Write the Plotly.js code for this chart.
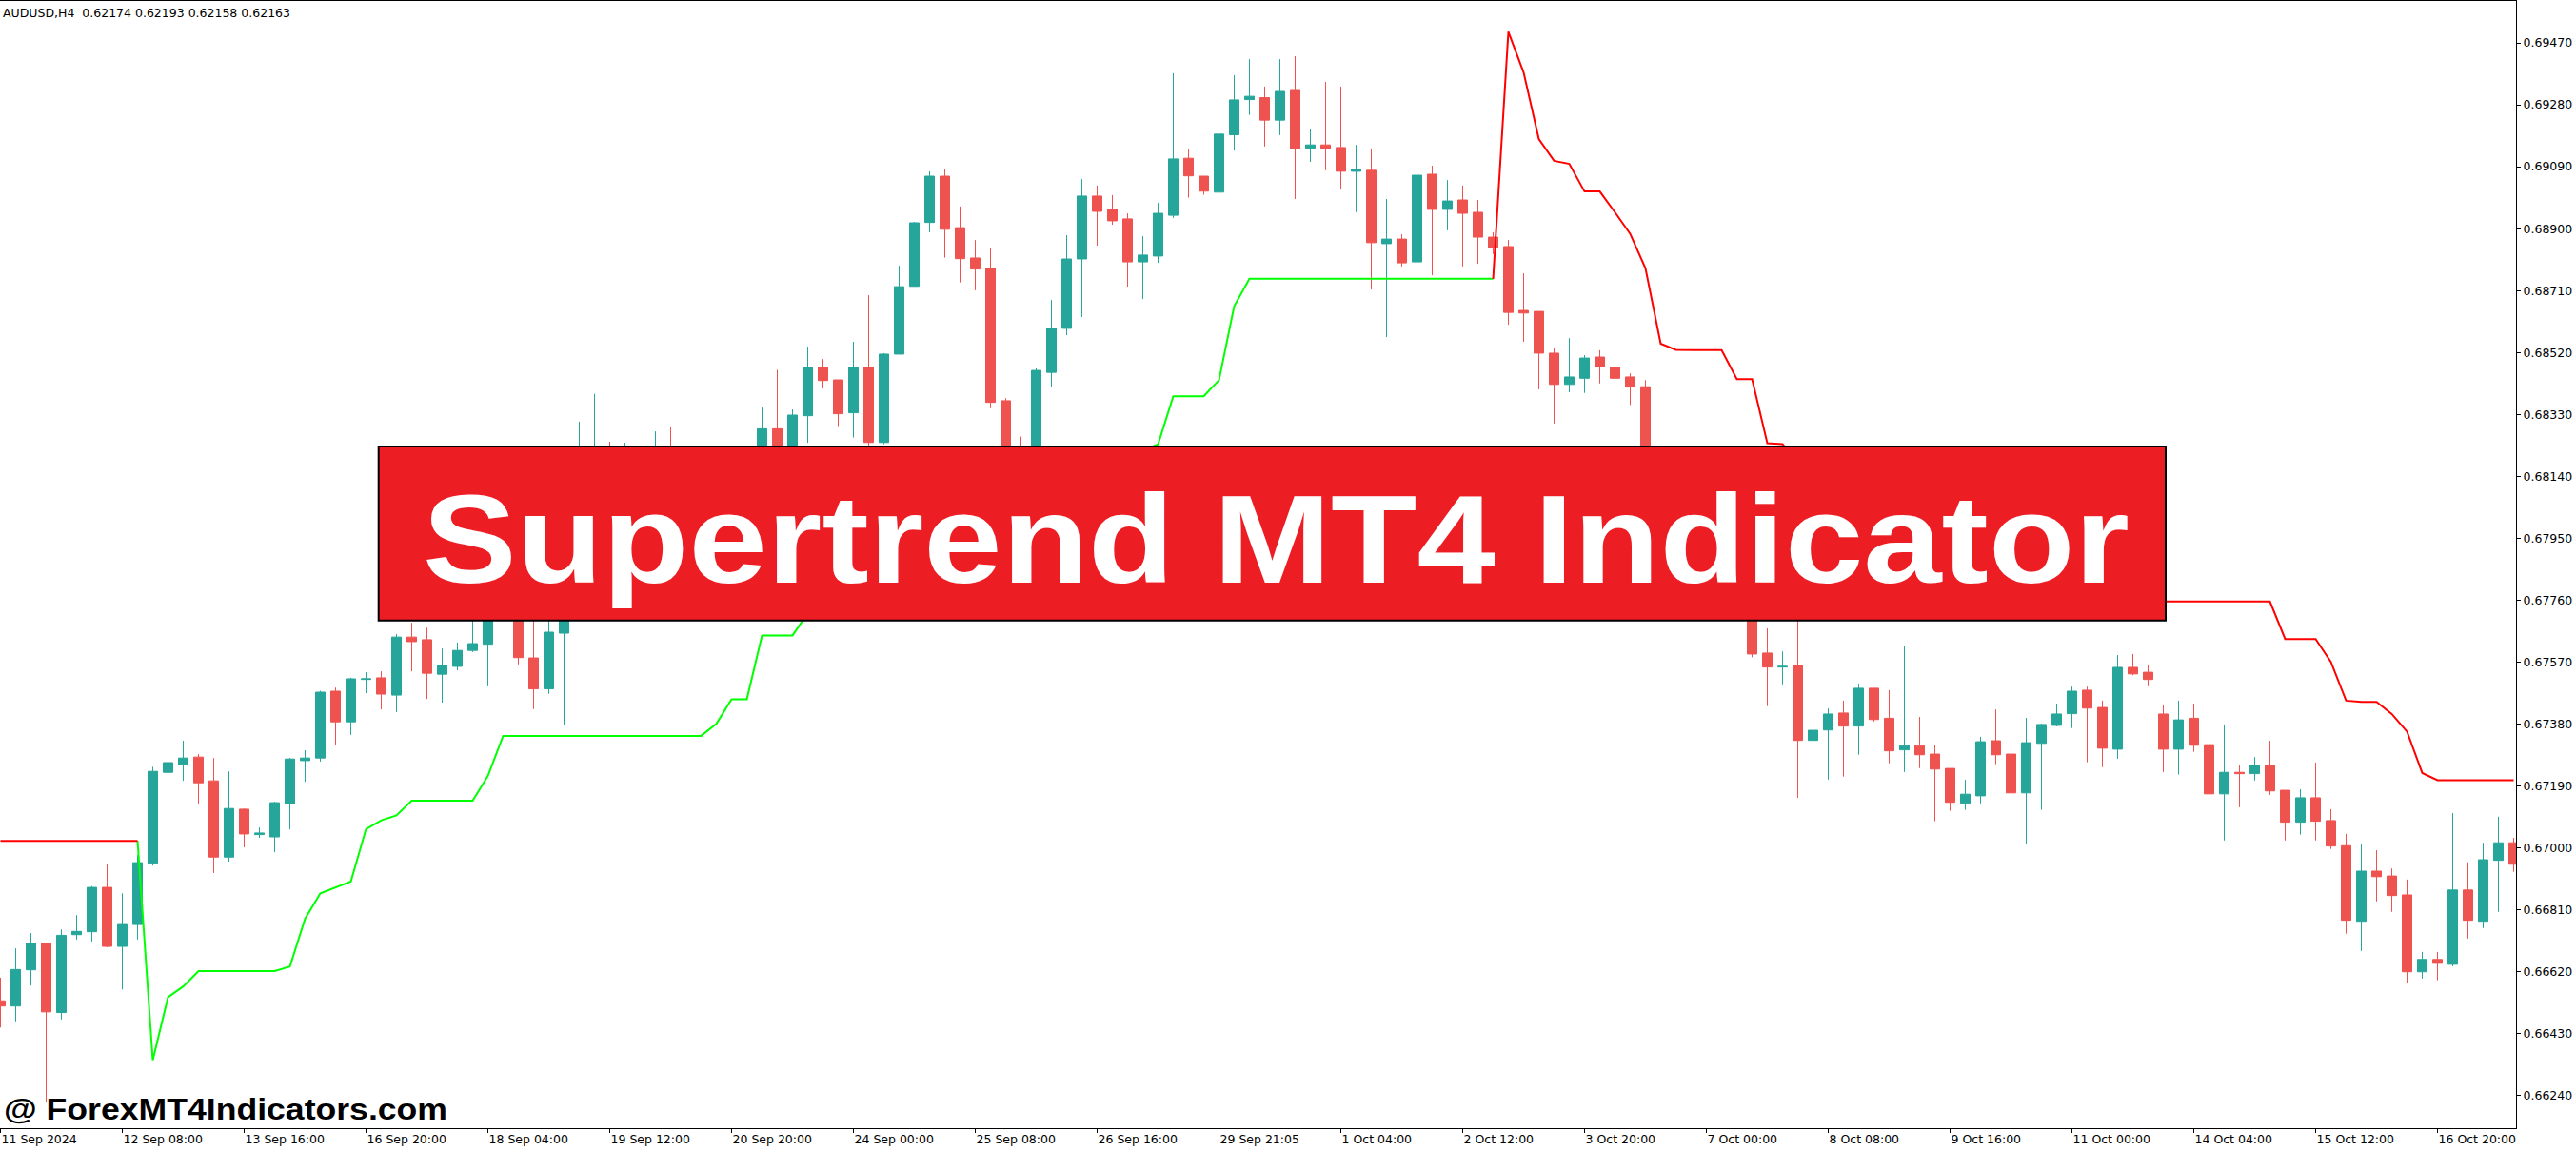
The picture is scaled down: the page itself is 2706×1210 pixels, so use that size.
<!DOCTYPE html>
<html><head><meta charset="utf-8">
<script src="https://cdn.plot.ly/plotly-3.0.1.min.js"></script>
<style>html,body{margin:0;padding:0;background:#fff;overflow:hidden}#chart{width:2706px;height:1210px}</style>
</head><body><div id="chart"></div>
<script>
// ---- data ----
const timeLabels = ['11 Sep 2024','12 Sep 08:00','13 Sep 16:00','16 Sep 20:00','18 Sep 04:00','19 Sep 12:00','20 Sep 20:00','24 Sep 00:00','25 Sep 08:00','26 Sep 16:00','29 Sep 21:05','1 Oct 04:00','2 Oct 12:00','3 Oct 20:00','7 Oct 00:00','8 Oct 08:00','9 Oct 16:00','11 Oct 00:00','14 Oct 04:00','15 Oct 12:00','16 Oct 20:00'];

const openP = [
0.66531,0.66515,0.66626,0.66707,0.66495,0.66734,0.66743,0.66879,0.66698,0.66765,
0.66953,0.67232,0.67256,0.67279,0.67206,0.66972,0.67119,0.67041,0.67034,0.67136,
0.67268,0.67276,0.67481,0.67387,0.67517,0.67522,0.67469,0.67647,0.67639,0.67533,
0.67557,0.67606,0.67625,0.67849,0.67936,0.67583,0.67488,0.67659,0.67966,0.68141,
0.68170,0.68083,0.68126,0.68141,0.68199,0.68112,0.68024,0.68083,0.68010,0.68112,
0.68083,0.68286,0.68141,0.68326,0.68474,0.68436,0.68335,0.68474,0.68244,0.68515,
0.68723,0.68919,0.69061,0.68903,0.68810,0.68778,0.68372,0.67849,0.67791,0.68459,
0.68594,0.68807,0.69000,0.68959,0.68930,0.68798,0.68816,0.68941,0.69116,0.69061,
0.69012,0.69188,0.69296,0.69302,0.69233,0.69324,0.69147,0.69157,0.69149,0.69076,
0.69079,0.68854,0.68868,0.68798,0.69067,0.68959,0.68988,0.68950,0.68874,0.68845,
0.68649,0.68646,0.68518,0.68422,0.68441,0.68506,0.68475,0.68445,0.68415,0.68083,
0.67966,0.68024,0.67907,0.67834,0.67878,0.67791,0.67598,0.67555,0.67560,0.67330,
0.67362,0.67414,0.67374,0.67490,0.67398,0.67301,0.67314,0.67288,0.67244,0.67137,
0.67160,0.67329,0.67288,0.67169,0.67321,0.67376,0.67412,0.67484,0.67431,0.67303,
0.67554,0.67539,0.67411,0.67303,0.67398,0.67317,0.67166,0.67232,0.67228,0.67253,
0.67177,0.67079,0.67154,0.67084,0.67007,0.66775,0.66929,0.66914,0.66856,0.66620,
0.66658,0.66643,0.66871,0.66775,0.66962,0.67016];

const highP = [
0.66602,0.66692,0.66739,0.66710,0.66750,0.66794,0.66883,0.66949,0.66861,0.66978,
0.67249,0.67285,0.67329,0.67288,0.67276,0.67235,0.67121,0.67063,0.67142,0.67276,
0.67300,0.67482,0.67492,0.67522,0.67539,0.67542,0.67656,0.67691,0.67676,0.67612,
0.67630,0.67732,0.67939,0.68024,0.67995,0.67761,0.67791,0.68083,0.68308,0.68393,
0.68246,0.68243,0.68214,0.68278,0.68293,0.68170,0.68141,0.68126,0.68170,0.68199,
0.68351,0.68467,0.68345,0.68538,0.68500,0.68436,0.68553,0.68696,0.68518,0.68786,
0.68921,0.69076,0.69084,0.68968,0.68865,0.68839,0.68380,0.68262,0.68471,0.68681,
0.68880,0.69052,0.69032,0.69003,0.68947,0.68877,0.68979,0.69377,0.69143,0.69061,
0.69207,0.69371,0.69420,0.69336,0.69420,0.69429,0.69207,0.69350,0.69336,0.69157,
0.69146,0.68991,0.68883,0.69160,0.69093,0.69049,0.69032,0.68988,0.68889,0.68865,
0.68763,0.68646,0.68535,0.68564,0.68512,0.68527,0.68506,0.68456,0.68435,0.68141,
0.68083,0.68053,0.67951,0.67907,0.67922,0.67820,0.67674,0.67603,0.67732,0.67425,
0.67428,0.67452,0.67504,0.67490,0.67484,0.67621,0.67402,0.67317,0.67244,0.67209,
0.67341,0.67425,0.67298,0.67399,0.67381,0.67443,0.67495,0.67495,0.67452,0.67592,
0.67595,0.67563,0.67440,0.67452,0.67443,0.67349,0.67379,0.67256,0.67279,0.67329,
0.67177,0.67180,0.67262,0.67119,0.67043,0.67011,0.66993,0.66937,0.66903,0.66681,
0.66681,0.67107,0.66956,0.67016,0.67096,0.67031];

const lowP = [
0.66449,0.66468,0.66578,0.66219,0.66474,0.66719,0.66713,0.66695,0.66566,0.66719,
0.66946,0.67206,0.67206,0.67136,0.66923,0.66958,0.67002,0.67031,0.66987,0.67057,
0.67203,0.67265,0.67317,0.67347,0.67475,0.67425,0.67417,0.67542,0.67457,0.67446,
0.67545,0.67601,0.67496,0.67805,0.67563,0.67426,0.67473,0.67376,0.67849,0.68024,
0.67966,0.68024,0.68053,0.68083,0.68053,0.67966,0.67936,0.67922,0.67907,0.68053,
0.67966,0.68053,0.68083,0.68243,0.68410,0.68294,0.68259,0.68223,0.68239,0.68515,
0.68723,0.68889,0.68811,0.68735,0.68711,0.68349,0.67791,0.67732,0.67747,0.68413,
0.68573,0.68629,0.68848,0.68912,0.68722,0.68684,0.68795,0.68933,0.68995,0.69004,
0.68959,0.69140,0.69249,0.69152,0.69187,0.68991,0.69105,0.69079,0.69020,0.68951,
0.68713,0.68567,0.68784,0.68787,0.68757,0.68895,0.68784,0.68792,0.68822,0.68605,
0.68553,0.68407,0.68302,0.68398,0.68396,0.68425,0.68378,0.68359,0.68024,0.67907,
0.67922,0.67849,0.67776,0.67791,0.67732,0.67585,0.67435,0.67502,0.67154,0.67190,
0.67210,0.67219,0.67286,0.67388,0.67260,0.67233,0.67245,0.67082,0.67114,0.67117,
0.67137,0.67257,0.67131,0.67011,0.67117,0.67373,0.67368,0.67263,0.67248,0.67274,
0.67530,0.67496,0.67233,0.67225,0.67295,0.67140,0.67023,0.67125,0.67207,0.67163,
0.67023,0.67041,0.67023,0.66997,0.66737,0.66684,0.66836,0.66804,0.66585,0.66599,
0.66594,0.66637,0.66722,0.66754,0.66804,0.66927];

const closeP = [
0.66515,0.66627,0.66707,0.66497,0.66732,0.66744,0.66879,0.66698,0.66768,0.66955,
0.67235,0.67262,0.67276,0.67200,0.66972,0.67121,0.67043,0.67046,0.67139,0.67273,
0.67276,0.67478,0.67387,0.67519,0.67519,0.67472,0.67647,0.67633,0.67536,0.67560,
0.67606,0.67627,0.67849,0.67966,0.67584,0.67488,0.67662,0.67966,0.68141,0.68170,
0.68083,0.68126,0.68155,0.68199,0.68112,0.68024,0.68083,0.68010,0.68112,0.68170,
0.68286,0.68141,0.68328,0.68474,0.68434,0.68332,0.68474,0.68244,0.68515,0.68722,
0.68918,0.69061,0.68898,0.68808,0.68776,0.68367,0.67849,0.67805,0.68465,0.68594,
0.68807,0.69000,0.68953,0.68924,0.68798,0.68819,0.68947,0.69114,0.69062,0.69015,
0.69190,0.69295,0.69306,0.69233,0.69321,0.69146,0.69157,0.69146,0.69076,0.69082,
0.68857,0.68868,0.68795,0.69064,0.68959,0.68985,0.68947,0.68874,0.68842,0.68643,
0.68641,0.68518,0.68422,0.68445,0.68503,0.68476,0.68441,0.68414,0.68083,0.67966,
0.68024,0.67907,0.67834,0.67878,0.67791,0.67595,0.67555,0.67557,0.67330,0.67361,
0.67411,0.67374,0.67490,0.67394,0.67298,0.67314,0.67286,0.67242,0.67140,0.67165,
0.67326,0.67286,0.67169,0.67323,0.67379,0.67411,0.67481,0.67429,0.67306,0.67554,
0.67534,0.67517,0.67303,0.67393,0.67315,0.67166,0.67232,0.67228,0.67253,0.67175,
0.67079,0.67154,0.67082,0.67006,0.66778,0.66929,0.66912,0.66854,0.66620,0.66658,
0.66646,0.66871,0.66778,0.66964,0.67016,0.66950];

// Supertrend: up-trend (green) and down-trend (red) buffers
const supertrendUp = [
null,null,null,null,null,null,null,null,null,0.67022,
0.66349,0.66542,0.66575,0.66622,0.66622,0.66622,0.66622,0.66622,0.66622,0.66636,
0.66783,0.66861,0.66879,0.66897,0.67058,0.67085,0.67100,0.67145,0.67145,0.67145,
0.67145,0.67145,0.67221,0.67344,0.67344,0.67344,0.67344,0.67344,0.67344,0.67344,
0.67344,0.67344,0.67344,0.67344,0.67344,0.67344,0.67344,0.67381,0.67456,0.67456,
0.67652,0.67652,0.67652,0.6772,0.6772,0.6772,0.6772,0.6780,0.6780,0.6780,
0.6780,0.6790,0.6800,0.6805,0.6805,0.6805,0.6805,0.6805,0.6805,0.6810,
0.6815,0.6820,0.6822,0.6822,0.6822,0.6822,0.68238,0.68386,0.68386,0.68386,
0.68435,0.68662,0.68746,0.68746,0.68746,0.68746,0.68746,0.68746,0.68746,0.68746,
0.68746,0.68746,0.68746,0.68746,0.68746,0.68746,0.68746,0.68746,0.68746,null,
null,null,null,null,null,null,null,null,null,null,
null,null,null,null,null,null,null,null,null,null,
null,null,null,null,null,null,null,null,null,null,
null,null,null,null,null,null,null,null,null,null,
null,null,null,null,null,null,null,null,null,null,
null,null,null,null,null,null,null,null,null,null,
null,null,null,null,null,null];

const supertrendDown = [
0.67022,0.67022,0.67022,0.67022,0.67022,0.67022,0.67022,0.67022,0.67022,0.67022,
null,null,null,null,null,null,null,null,null,null,
null,null,null,null,null,null,null,null,null,null,
null,null,null,null,null,null,null,null,null,null,
null,null,null,null,null,null,null,null,null,null,
null,null,null,null,null,null,null,null,null,null,
null,null,null,null,null,null,null,null,null,null,
null,null,null,null,null,null,null,null,null,null,
null,null,null,null,null,null,null,null,null,null,
null,null,null,null,null,null,null,null,0.68746,0.69504,
0.69379,0.69175,0.69108,0.69099,0.69014,0.69014,0.68950,0.68884,0.68778,0.68547,
0.68528,0.68527,0.68527,0.68527,0.68438,0.68438,0.68242,0.68239,0.6818,0.6810,
0.6810,0.6810,0.6800,0.6800,0.6800,0.6800,0.6790,0.6790,0.6790,0.6790,
0.6790,0.6783,0.6783,0.6783,0.6783,0.6783,0.6783,0.67756,0.67756,0.67756,
0.67756,0.67756,0.67756,0.67756,0.67756,0.67756,0.67756,0.67756,0.67756,0.67756,
0.67641,0.67641,0.67641,0.67571,0.67452,0.67448,0.67448,0.67411,0.67357,0.67230,
0.67208,0.67208,0.67208,0.67208,0.67208,0.67208];

const priceTicks = [0.69470,0.69280,0.69090,0.68900,0.68710,0.68520,0.68330,0.68140,0.67950,0.67760,0.67570,0.67380,0.67190,0.67000,0.66810,0.66620,0.66430,0.66240];
const priceTickLabels = ['0.69470','0.69280','0.69090','0.68900','0.68710','0.68520','0.68330','0.68140','0.67950','0.67760','0.67570','0.67380','0.67190','0.67000','0.66810','0.66620','0.66430','0.66240'];
const headerText = 'AUDUSD,H4\u00a0 0.62174 0.62193 0.62158 0.62163';
const bannerText = 'Supertrend MT4 Indicator';
const watermarkText = '@ ForexMT4Indicators.com';

// ---- chart ----
const barIndex = openP.map((_, i) => i);
const labelIndex = timeLabels.map((_, k) => k * 8);
const TEAL = '#26a69a', RED = '#ef5350';
const axisFont = {family: 'DejaVu Sans', size: 12.5, color: '#000'};

const traces = [
  {type: 'candlestick', x: barIndex, open: openP, high: highP, low: lowP, close: closeP,
   increasing: {line: {color: TEAL, width: 1}, fillcolor: TEAL},
   decreasing: {line: {color: RED, width: 1}, fillcolor: RED},
   whiskerwidth: 0, hoverinfo: 'skip', showlegend: false},
  {type: 'scatter', mode: 'lines', x: barIndex, y: supertrendUp, connectgaps: false,
   line: {color: '#00ff00', width: 2}, hoverinfo: 'skip', showlegend: false},
  {type: 'scatter', mode: 'lines', x: barIndex, y: supertrendDown, connectgaps: false,
   line: {color: '#ff0000', width: 2}, hoverinfo: 'skip', showlegend: false}
];

const layout = {
  width: 2706, height: 1210,
  margin: {l: 0, r: 63, t: 1, b: 25, pad: 0},
  paper_bgcolor: '#ffffff', plot_bgcolor: '#ffffff',
  showlegend: false, hovermode: false,
  boxgap: 0.375, boxgroupgap: 0,
  xaxis: {type: 'linear', range: [-0.03125, 165.15625], rangeslider: {visible: false},
    showgrid: false, zeroline: false, showline: true, mirror: true, linecolor: '#000', linewidth: 1,
    ticks: 'outside', ticklen: 4, tickwidth: 1, tickcolor: '#000',
    tickmode: 'array', tickvals: labelIndex, ticktext: timeLabels,
    ticklabelposition: 'outside right', ticklabeloverflow: 'allow', tickfont: axisFont, fixedrange: true},
  yaxis: {side: 'right', range: [0.661403, 0.695985], showgrid: false, zeroline: false,
    showline: true, linecolor: '#000', linewidth: 1,
    ticks: 'outside', ticklen: 4, tickwidth: 1, tickcolor: '#000',
    tickmode: 'array', tickvals: priceTicks, ticktext: priceTickLabels, tickfont: axisFont, fixedrange: true},
  shapes: [
    {type: 'rect', xref: 'paper', yref: 'paper', x0: 0.15047, x1: 0.86076, y0: 0.45042, y1: 0.60473,
     fillcolor: '#ed1d24', line: {color: '#000', width: 2}, layer: 'above'}
  ],
  annotations: [
    {text: headerText, xref: 'paper', yref: 'paper', x: 0, y: 1, xanchor: 'left', yanchor: 'top',
     xshift: 1, yshift: -3, align: 'left', showarrow: false, font: axisFont},
    {text: '<b>' + bannerText + '</b>', xref: 'paper', yref: 'paper', x: 0.5070, y: 0.45861,
     xanchor: 'center', yanchor: 'bottom', showarrow: false,
     font: {family: 'Liberation Sans', size: 132, color: '#ffffff'}},
    {text: '<b>' + watermarkText + '</b>', xref: 'paper', yref: 'paper', x: 0, y: 0,
     xanchor: 'left', yanchor: 'bottom', xshift: 2, align: 'left', showarrow: false,
     font: {family: 'Liberation Sans', size: 32, color: '#000000'}}
  ]
};

Plotly.newPlot('chart', traces, layout, {staticPlot: true, displayModeBar: false}).then(gd => {
  const stretch = {};
  stretch[bannerText] = 1793;
  stretch[watermarkText] = 466;
  gd.querySelectorAll('text.annotation-text').forEach(t => {
    const w = stretch[t.textContent];
    if (w) { t.setAttribute('textLength', w); t.setAttribute('lengthAdjust', 'spacingAndGlyphs'); }
  });
});
</script>
</body></html>
